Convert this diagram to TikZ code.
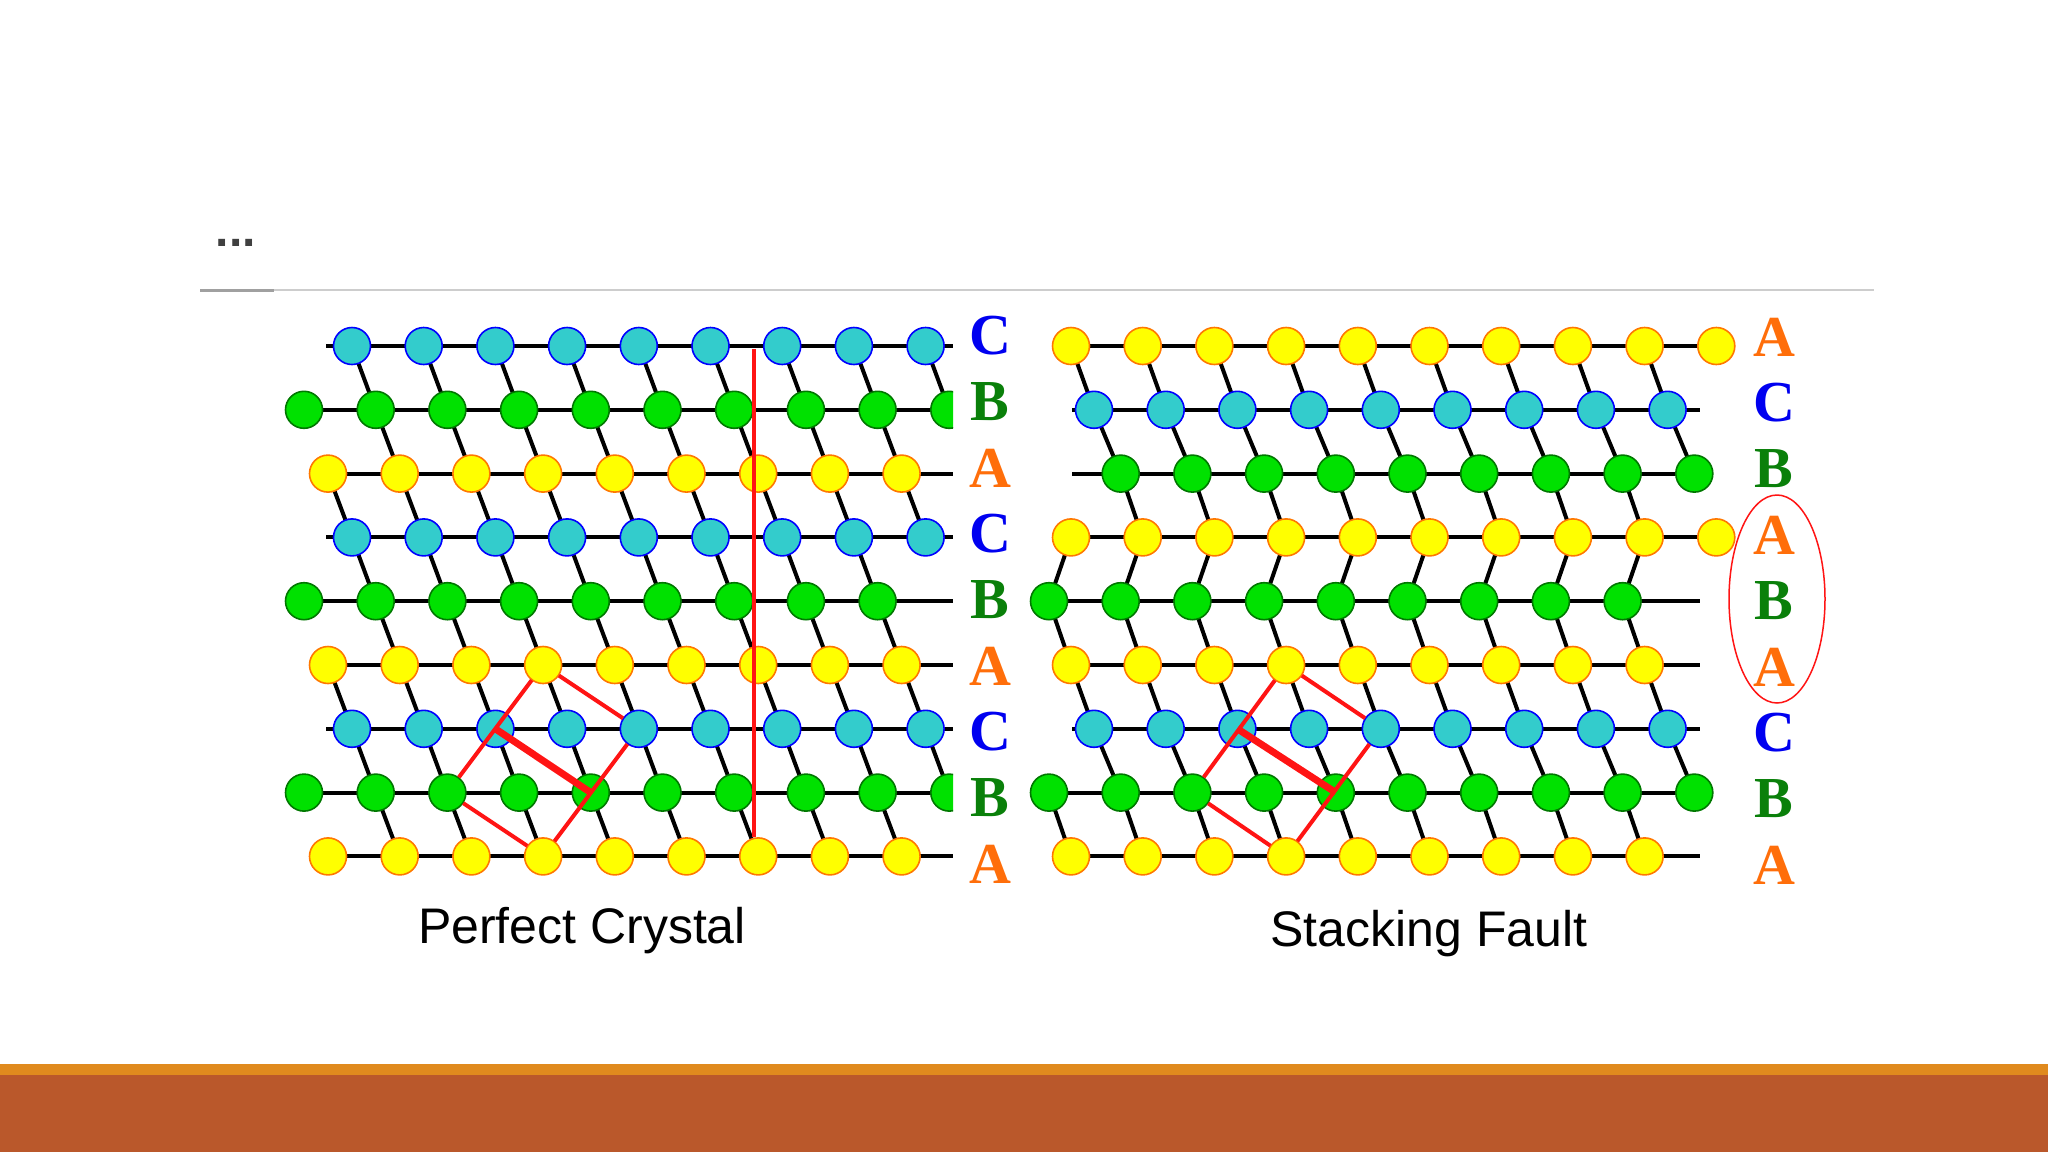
\documentclass[tikz,border=0pt]{standalone}
\usepackage{fontspec}
\usetikzlibrary{shapes.geometric}
\setmainfont{Liberation Serif}
\newfontfamily\arialf{Liberation Sans}
\definecolor{fillA}{RGB}{255,255,0}
\definecolor{lineA}{RGB}{255,120,0}
\definecolor{fillB}{RGB}{0,225,0}
\definecolor{lineB}{RGB}{0,120,0}
\definecolor{fillC}{RGB}{51,204,204}
\definecolor{lineC}{RGB}{0,0,255}
\definecolor{labA}{RGB}{255,110,10}
\definecolor{labB}{RGB}{10,128,10}
\definecolor{labC}{RGB}{0,0,240}
\definecolor{stripe}{RGB}{224,138,30}
\definecolor{rust}{RGB}{186,88,43}
\definecolor{redl}{RGB}{255,20,20}
\definecolor{dotgray}{RGB}{64,64,64}
\definecolor{hlight}{RGB}{205,205,205}
\definecolor{hdark}{RGB}{160,160,160}
\tikzset{
  atom/.style={circle,fill=fill#1,draw=line#1,line width=1.6pt,minimum size=37pt,inner sep=0pt},
  rowline/.style={line width=4pt,black},
  bond/.style={line width=4pt,black},
  lab/.style={font=\fontsize{58}{58}\selectfont\bfseries,text=lab#1,inner sep=0pt},
  redthin/.style={redl,line width=4pt,shorten <=19pt,shorten >=19pt},
  redthick/.style={redl,line width=7pt},
  title/.style={font=\arialf\fontsize{50}{50}\selectfont,inner sep=0pt}
}
\begin{document}
\begin{tikzpicture}[x=1pt,y=-1pt]
\useasboundingbox (0,0) rectangle (2048,1152);
\fill[white] (0,0) rectangle (2048,1152);
% header
\node[font=\arialf\bfseries\fontsize{48}{48}\selectfont,text=dotgray,inner sep=0pt] (dots) at (236,243) {...};
\coordinate (hl1) at (200,290); \coordinate (hl2) at (1874,290); \coordinate (hl3) at (274,290);
\draw[line width=2pt,hlight] (hl1) -- (hl2);
\draw[line width=3pt,hdark] (hl1) -- (hl3);
% bottom bars
\fill[stripe] (0,1064) rectangle (2048,1075);
\fill[rust] (0,1075) rectangle (2048,1152);

% ---------- left panel ----------
\begin{scope}
\clip (200,300) rectangle (953,900);
\foreach \r/\t/\x/\n/\ls in {0/C/352/9/326,1/B/304/10/304,2/A/328/9/328,3/C/352/9/326,4/B/304/9/304,5/A/328/9/328,6/C/352/9/326,7/B/304/10/304,8/A/328/9/328}{
  \pgfmathtruncatemacro\m{\n-1}
  \foreach \k in {0,...,\m}{ \coordinate (L-\r-\k) at ({\x+71.7*\k},{346+63.8*\r}); }
  \coordinate (Ls-\r) at (\ls,{346+63.8*\r});
  \coordinate (Le-\r) at (953,{346+63.8*\r});
  \draw[rowline] (Ls-\r) -- (Le-\r);
}
\foreach \r/\d/\a/\b in {0/1/0/8,1/0/1/8,2/0/0/8,3/1/0/7,4/0/1/8,5/0/0/8,6/1/0/8,7/0/1/8}{
  \pgfmathtruncatemacro\rr{\r+1}
  \foreach \k in {\a,...,\b}{
    \pgfmathtruncatemacro\kk{\k+\d}
    \draw[bond] (L-\r-\k) -- (L-\rr-\kk);
  }
}
\foreach \r/\t/\n in {0/C/9,1/B/10,2/A/9,3/C/9,4/B/9,5/A/9,6/C/9,7/B/10,8/A/9}{
  \pgfmathtruncatemacro\m{\n-1}
  \foreach \k in {0,...,\m}{ \node[atom=\t] (nL-\r-\k) at (L-\r-\k) {}; }
}
\end{scope}
\coordinate (vt) at (753.5,349); \coordinate (vb) at (753.5,837);
\draw[redl,line width=4pt] (vt) -- (vb);
\draw[redthin] (L-5-3) -- (L-7-2);
\draw[redthin] (L-5-3) -- (L-6-4);
\draw[redthin] (L-6-4) -- (L-8-3);
\draw[redthin] (L-7-2) -- (L-8-3);
\draw[redthick] (L-6-2) -- (L-7-4);

% ---------- right panel ----------
\foreach \r/\t/\x/\ks/\ke/\ls/\le in {0/A/1071/0/9/1071/1716,1/C/1094/0/8/1072/1700,2/B/1049/1/9/1072/1700,3/A/1071/0/9/1071/1716,4/B/1049/0/8/1049/1700,5/A/1071/0/8/1071/1700,6/C/1094/0/8/1072/1700,7/B/1049/0/9/1049/1700,8/A/1071/0/8/1071/1700}{
  \foreach \k in {\ks,...,\ke}{ \coordinate (R-\r-\k) at ({\x+71.7*\k},{346+63.8*\r}); }
  \coordinate (Rs-\r) at (\ls,{346+63.8*\r});
  \coordinate (Re-\r) at (\le,{346+63.8*\r});
  \draw[rowline] (Rs-\r) -- (Re-\r);
}
\foreach \r/\d/\a/\b in {0/0/0/8,1/1/0/8,2/0/1/8,3/0/0/8,4/0/0/8,5/0/0/8,6/1/0/8,7/0/0/8}{
  \pgfmathtruncatemacro\rr{\r+1}
  \foreach \k in {\a,...,\b}{
    \pgfmathtruncatemacro\kk{\k+\d}
    \draw[bond] (R-\r-\k) -- (R-\rr-\kk);
  }
}
\foreach \r/\t/\ks/\ke in {0/A/0/9,1/C/0/8,2/B/1/9,3/A/0/9,4/B/0/8,5/A/0/8,6/C/0/8,7/B/0/9,8/A/0/8}{
  \foreach \k in {\ks,...,\ke}{ \node[atom=\t] (nR-\r-\k) at (R-\r-\k) {}; }
}
\draw[redthin] (R-5-3) -- (R-7-2);
\draw[redthin] (R-5-3) -- (R-6-4);
\draw[redthin] (R-6-4) -- (R-8-3);
\draw[redthin] (R-7-2) -- (R-8-3);
\draw[redthick] (R-6-2) -- (R-7-4);

% labels
\foreach \i/\t in {0/C,1/B,2/A,3/C,4/B,5/A,6/C,7/B,8/A}{
  \node[lab=\t] (ll-\i) at (990,{336+66*\i}) {\t};
}
\foreach \i/\t in {0/A,1/C,2/B,3/A,4/B,5/A,6/C,7/B,8/A}{
  \node[lab=\t] (rl-\i) at (1774,{337+66*\i}) {\t};
}
\node[draw=redl,line width=1.5pt,ellipse,minimum width=96pt,minimum height=208pt,inner sep=0pt] (oval) at (1777,599) {};

\node[title] (t1) at (582,931) {Perfect Crystal};
\node[title] (t2) at (1429,934) {Stacking Fault};
\end{tikzpicture}
\end{document}
